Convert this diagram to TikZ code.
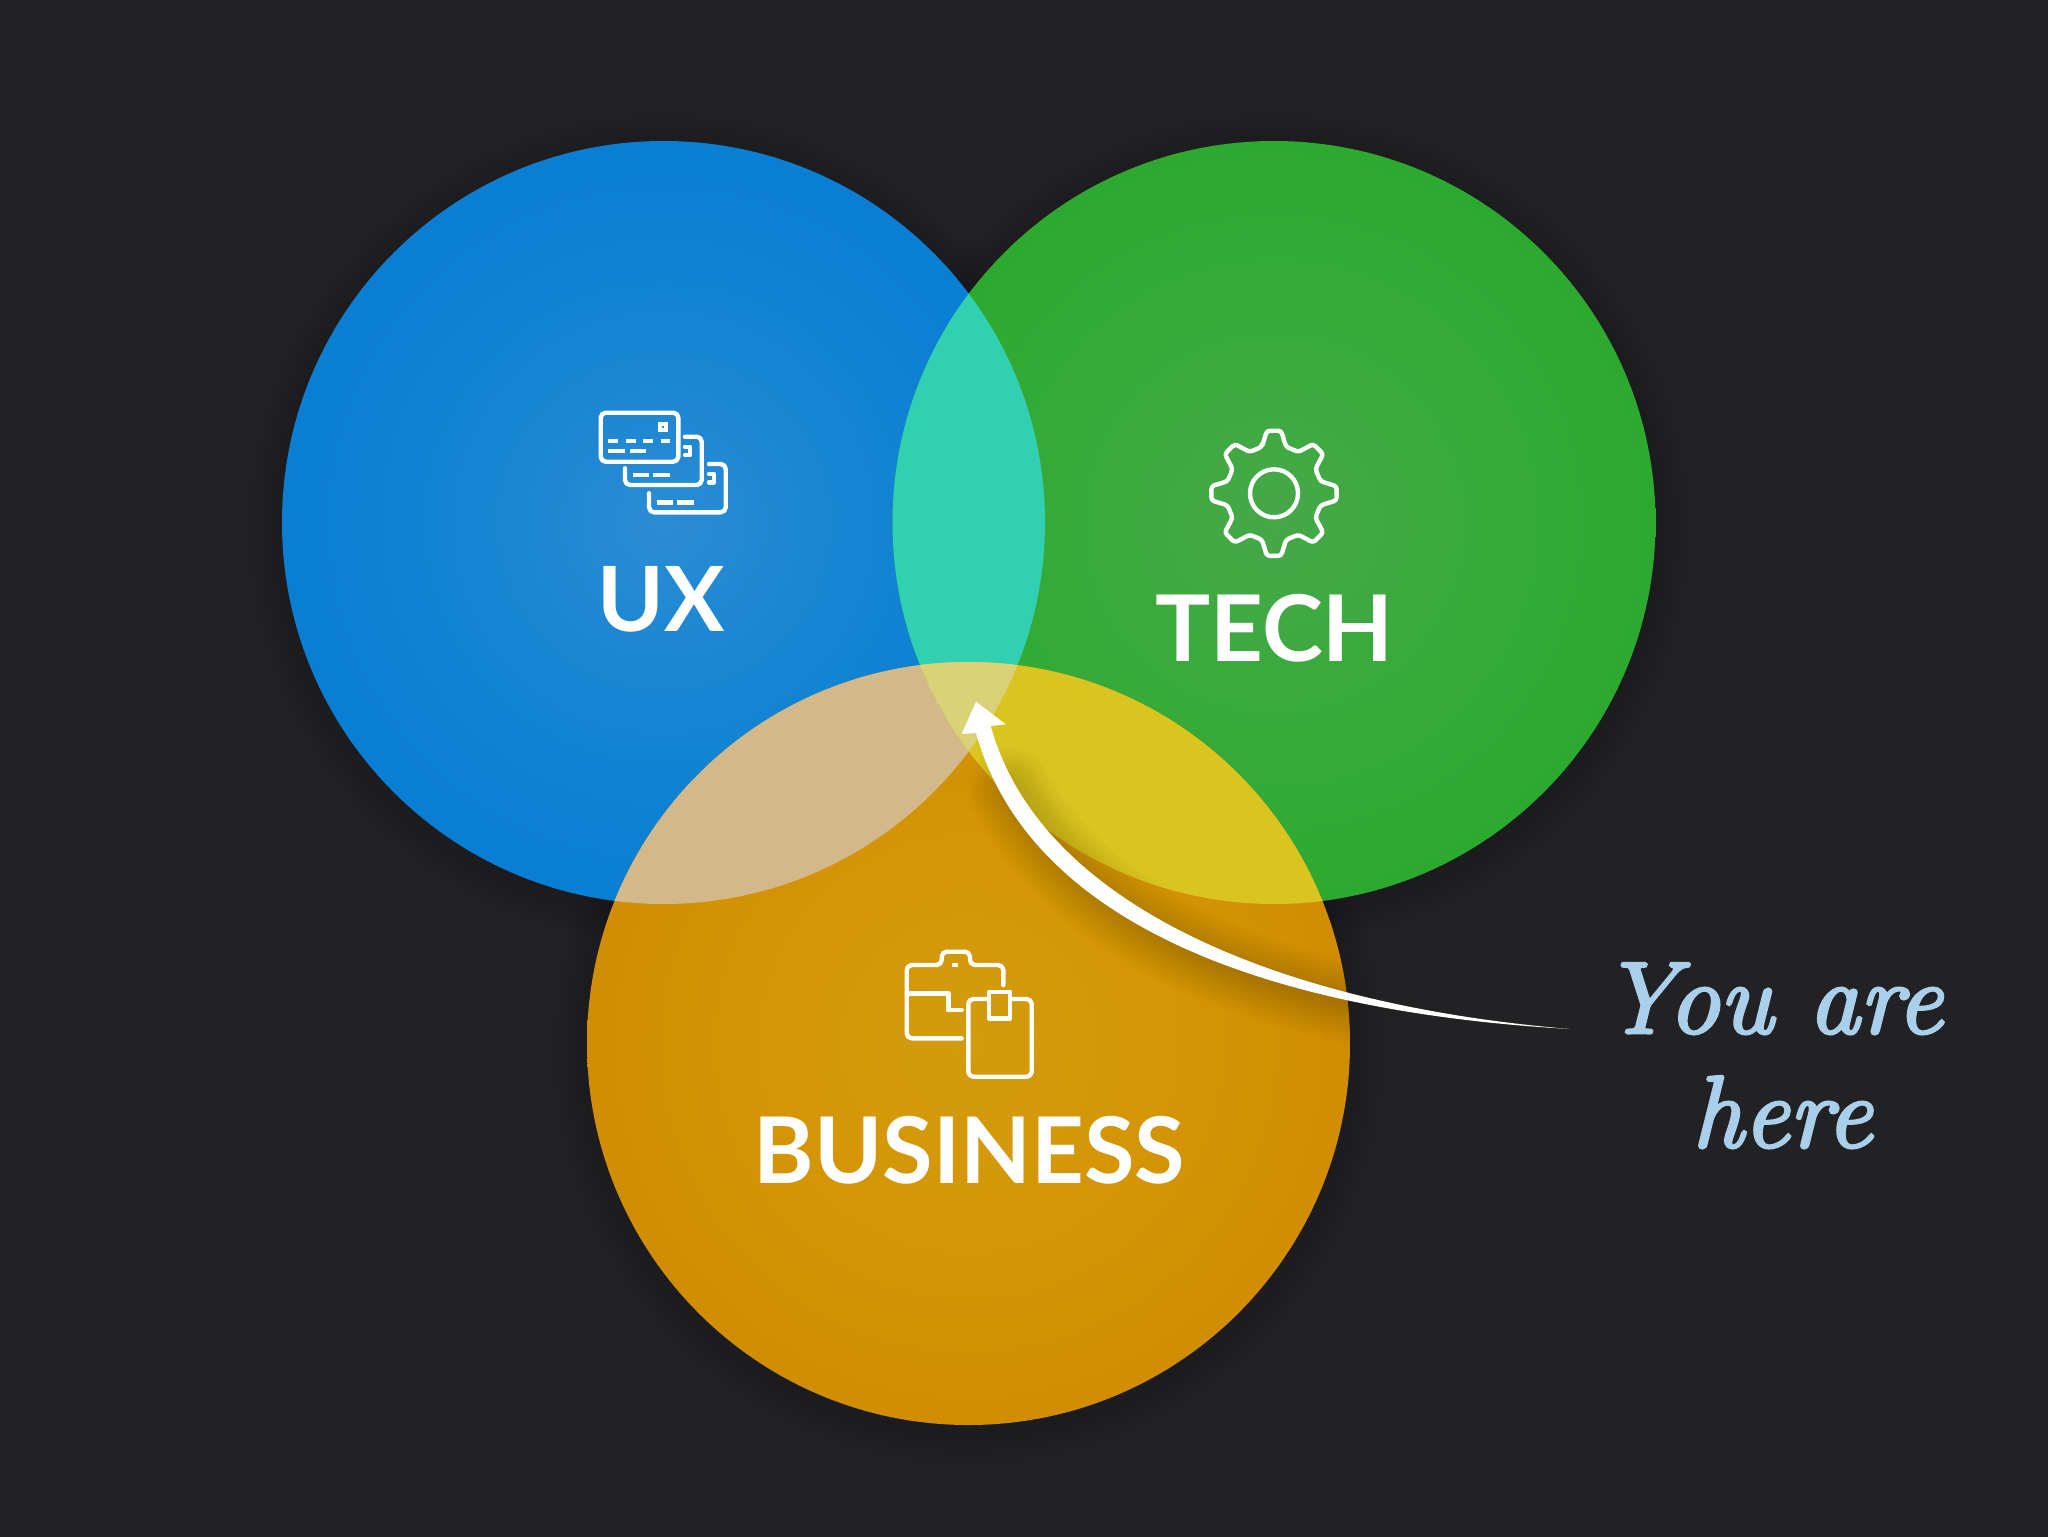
\documentclass[tikz,border=0pt]{standalone}
\usepackage{fontspec}
\newfontfamily\labelfont{Lato}
\newfontfamily\handfont[UprightFont=*/I,FakeBold=3]{Latin Modern Roman}
\definecolor{bgdark}{HTML}{222224}
\definecolor{bluee}{HTML}{077DD3}
\definecolor{bluem}{HTML}{1584D3}
\definecolor{bluec}{HTML}{2B8CD4}
\definecolor{greene}{HTML}{2CA92D}
\definecolor{greenm}{HTML}{38AA3B}
\definecolor{greenc}{HTML}{46A849}
\definecolor{orangee}{HTML}{D18C02}
\definecolor{orangem}{HTML}{D49506}
\definecolor{orangec}{HTML}{D39C0D}
\definecolor{ovUT}{HTML}{30D0B0}
\definecolor{ovUB}{HTML}{D3B88A}
\definecolor{ovTB}{HTML}{DAC420}
\definecolor{ovALL}{HTML}{D9D278}
\definecolor{handblue}{HTML}{A9CFEA}
\pgfdeclareradialshading{bluesh}{\pgfpointorigin}{color(0bp)=(bluec); color(13bp)=(bluem); color(27bp)=(bluee); color(50bp)=(bluee)}
\pgfdeclareradialshading{greensh}{\pgfpointorigin}{color(0bp)=(greenc); color(13bp)=(greenm); color(27bp)=(greene); color(50bp)=(greene)}
\pgfdeclareradialshading{orangesh}{\pgfpointorigin}{color(0bp)=(orangec); color(13bp)=(orangem); color(27bp)=(orangee); color(50bp)=(orangee)}
\tikzset{
  iconline/.style={draw=white,line width=2.2pt,rounded corners=2.5pt,line cap=round,line join=round},
  icondash/.style={draw=white,line width=2.2pt},
  biglabel/.style={text=white,inner sep=0pt,anchor=base,font=\labelfont\bfseries\fontsize{46}{46}\selectfont},
  handlabel/.style={text=handblue,inner sep=0pt,anchor=base,font=\handfont\fontsize{51}{51}\selectfont},
}
\def\rad{381.5}
\begin{document}
\begin{tikzpicture}[x=0.5pt,y=-0.5pt]
\useasboundingbox (0,0) rectangle (2048,1536);
\fill[bgdark] (-10,-10) rectangle (2058,1546);
\coordinate (ux) at (663.5,522.5);
\coordinate (tech) at (1274,522.5);
\coordinate (biz) at (968.5,1043.5);
% soft shadows
\foreach \c in {ux,tech,biz}
  \foreach \k in {6,12,...,36}
    \fill[black,opacity=.012] ([yshift=-3pt]\c) circle ({\rad+\k});
% circles
\shade[shading=bluesh] (ux) circle (\rad);
\shade[shading=greensh] (tech) circle (\rad);
\shade[shading=orangesh] (biz) circle (\rad);
% overlaps
\begin{scope}\clip (ux) circle (\rad); \fill[ovUT] (tech) circle (\rad); \fill[ovUB] (biz) circle (\rad); \end{scope}
\begin{scope}\clip (tech) circle (\rad); \fill[ovTB] (biz) circle (\rad); \end{scope}
\begin{scope}\clip (ux) circle (\rad); \clip (tech) circle (\rad); \fill[ovALL] (biz) circle (\rad); \end{scope}
% labels
\node[biglabel,font=\labelfont\bfseries\fontsize{45}{45}\selectfont] (uxlabel) at (661.5,631) {UX};
\node[biglabel] (techlabel) at (1274.5,661) {TECH};
\node[biglabel] (bizlabel) at (969.5,1183) {BUSINESS};
\node[handlabel] (hand1) at (1772,1033) {You are};
\node[handlabel] (hand2) at (1782,1147) {here};
% cards icon
\draw[iconline] (600.7,412.7) rectangle (678.3,461.7);
\fill[white] (658.3,421.7) rectangle (668.3,431.7);
\fill[bluec] (662.3,425.7) rectangle (664.3,427.7);
\draw[icondash] (608.3,440.7) -- (618.3,440.7) (626,440.7) -- (635.7,440.7) (643.3,440.7) -- (652.7,440.7) (660.7,440.7) -- (670,440.7);
\draw[icondash] (608.3,451) -- (625,451) (630,451) -- (646,451);
\draw[iconline] (685,436.7) -- (701.7,436.7) -- (701.7,485) -- (625,485) -- (625,468.3);
\draw[iconline,rounded corners=0pt] (685,446.7) -- (690,446.7) -- (690,455) -- (685,455);
\draw[icondash] (632.7,475) -- (649.3,475) (653.3,475) -- (670,475);
\draw[iconline] (709,464) -- (725.7,464) -- (725.7,512.3) -- (649,512.3) -- (649,493.3);
\draw[iconline,rounded corners=0pt] (709,474) -- (714,474) -- (714,482.3) -- (709,482.3);
\draw[icondash] (656.7,502.3) -- (673.3,502.3) (677.3,502.3) -- (694,502.3);
% gear icon
\begin{scope}[shift={(1274,493.3)}]
\draw[iconline,rounded corners=1.5pt] (-104.5:48) \foreach \a in {-90,-45,...,225} { -- (\a-14.5:48) -- (\a-6.5:63) -- (\a+6.5:63) -- (\a+14.5:48)} -- cycle;
\draw[white,line width=2.2pt] (0,0) circle (24);
\end{scope}
% briefcase icon
\draw[iconline] (1003.3,985) -- (1003.3,965) -- (970,965) -- (970,951.7) -- (941.7,951.7) -- (941.7,965) -- (906.7,965) -- (906.7,1038.3) -- (961.7,1038.3);
\draw[iconline,rounded corners=0pt] (906.7,993.3) -- (948.3,993.3) -- (948.3,1010) -- (961.7,1010);
\fill[white] (952.3,963.3) rectangle (958.3,967.3);
\draw[iconline] (989,999) -- (968.3,999) -- (968.3,1076.7) -- (1031.7,1076.7) -- (1031.7,999) -- (1010,999);
\draw[iconline,rounded corners=0pt] (989,991.7) rectangle (1010,1018.3);
% arrow
\coordinate (arrowtail) at (1570,1029);
\coordinate (arrowtip) at (976,701.7);
\begin{scope}
\clip (biz) circle (\rad);
\begin{scope}[xshift=2pt,yshift=-7pt]
\foreach \w in {3,6,...,42}
  \draw[black,opacity=.011,line width=\w pt,line cap=round] (arrowtail) .. controls (1300,1005) and (1090,930) .. (1005,775);
\end{scope}
\end{scope}
\fill[white] (arrowtail) .. controls (1280,1005) and (1040,905) .. (990.7,726) -- (1005.7,724.3) -- (arrowtip) -- (961.7,734) -- (976,733) .. controls (1030,925) and (1270,1012) .. (arrowtail) -- cycle;
\end{tikzpicture}
\end{document}
